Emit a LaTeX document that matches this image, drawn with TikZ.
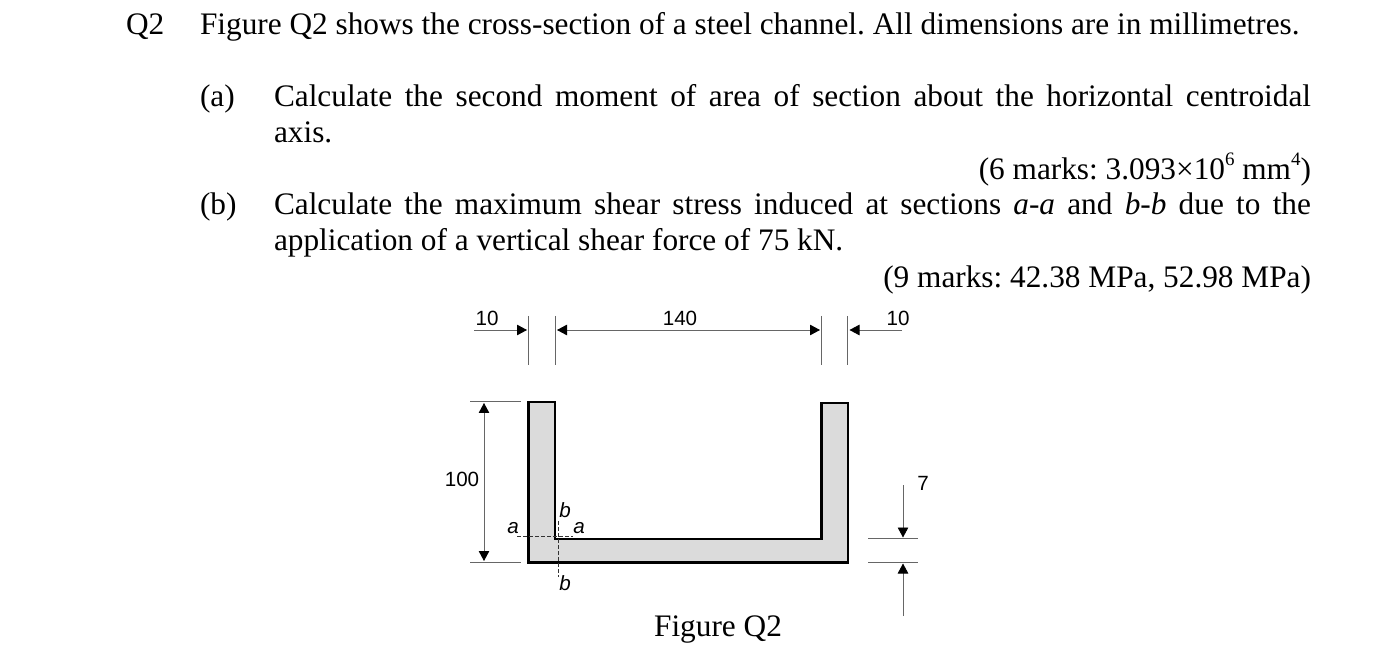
\documentclass[tikz,border=0pt]{standalone}
\usepackage{fontspec}
\setmainfont{Liberation Serif}
\newfontfamily\dimfont{Liberation Sans}
\usetikzlibrary{arrows.meta}
\frenchspacing
\tikzset{
  body/.style={anchor=base west,inner sep=0pt,outer sep=0pt,font=\fontsize{31.3}{31.3}\selectfont},
  bodyr/.style={anchor=base east,inner sep=0pt,outer sep=0pt,font=\fontsize{31.3}{31.3}\selectfont},
  dimtext/.style={inner sep=0pt,outer sep=0pt,font=\dimfont\fontsize{20.6}{20.6}\selectfont},
  seclabel/.style={inner sep=0pt,outer sep=0pt,font=\dimfont\itshape\fontsize{20.6}{20.6}\selectfont},
  extline/.style={draw=black!60,line width=0.9pt},
  dimline/.style={draw=black!60,line width=0.9pt},
  dimarrow/.style={dimline,-{Triangle[black,length=10pt,width=10.5pt]}},
  dimboth/.style={dimline,{Triangle[black,length=10pt,width=10.5pt]}-{Triangle[black,length=10pt,width=10.5pt]}},
  cutline/.style={draw=black!80,line width=0.8pt,dash pattern=on 4pt off 2pt},
  channel/.style={draw=black,line width=2.6pt,fill=black!14,line join=miter}
}
\begin{document}
\begin{tikzpicture}[x=1pt,y=-1pt]
\useasboundingbox (0,0) rectangle (1377,660);
% question text
\node[body] (q2) at (126,34.6) {Q2};
\node[body] (intro) at (200,34.6) {Figure Q2 shows the cross-section of a steel channel. All dimensions are in millimetres.};
\node[body] (pa) at (200,106.6) {(a)};
\node[body] (a1) at (274,106.6) {\makebox[1037pt][s]{Calculate the second moment of area of section about the horizontal centroidal}};
\node[body] (a2) at (274,142.6) {axis.};
\node[bodyr] (m1) at (1311,179.6) {(6 marks: 3.093×10\raisebox{0.44em}{\fontsize{19}{19}\selectfont 6} mm\raisebox{0.44em}{\fontsize{19}{19}\selectfont 4})};
\node[body] (pb) at (200,214.6) {(b)};
\node[body] (b1) at (274,214.6) {\makebox[1037pt][s]{Calculate the maximum shear stress induced at sections \textit{a-a} and \textit{b-b} due to the}};
\node[body] (b2) at (274,250.6) {application of a vertical shear force of 75 kN.};
\node[bodyr] (m2) at (1311,287.6) {(9 marks: 42.38 MPa, 52.98 MPa)};
\node[body,anchor=base] (fig) at (718,636.6) {Figure Q2};
% channel section
\draw[channel] (528.5,402) -- (555,402) -- (555,539) -- (821.5,539) -- (821.5,403) -- (848,403) -- (848,562.5) -- (528.5,562.5) -- cycle;
% extension lines, top
\coordinate (t1a) at (528.5,316); \coordinate (t1b) at (528.5,365);
\coordinate (t2a) at (555.3,316); \coordinate (t2b) at (555.3,365);
\coordinate (t3a) at (821.5,316); \coordinate (t3b) at (821.5,365);
\coordinate (t4a) at (847.8,316); \coordinate (t4b) at (847.8,365);
\foreach \p in {1,2,3,4} \draw[extline] (t\p a) -- (t\p b);
\coordinate (d1s) at (474,330); \coordinate (d1e) at (527,330);
\coordinate (d2s) at (557,330); \coordinate (d2e) at (820,330);
\coordinate (d3s) at (902,330); \coordinate (d3e) at (849.5,330);
\draw[dimarrow] (d1s) -- (d1e);
\draw[dimboth] (d2s) -- (d2e);
\draw[dimarrow] (d3s) -- (d3e);
\node[dimtext] (l10a) at (487,318) {10};
\node[dimtext] (l140) at (680,318) {140};
\node[dimtext] (l10b) at (898,318) {10};
% left height dimension
\coordinate (h1a) at (470,401.5); \coordinate (h1b) at (521,401.5);
\coordinate (h2a) at (470,562); \coordinate (h2b) at (521,562);
\draw[extline] (h1a) -- (h1b);
\draw[extline] (h2a) -- (h2b);
\coordinate (v1) at (484,403); \coordinate (v2) at (484,561);
\draw[dimboth] (v1) -- (v2);
\node[dimtext] (l100) at (462,479) {100};
% right thickness dimension
\coordinate (r1a) at (868,538.5); \coordinate (r1b) at (918,538.5);
\coordinate (r2a) at (868,562.3); \coordinate (r2b) at (918,562.3);
\draw[extline] (r1a) -- (r1b);
\draw[extline] (r2a) -- (r2b);
\coordinate (u1) at (903,485); \coordinate (u2) at (903,537.5);
\coordinate (w1) at (903,616); \coordinate (w2) at (903,563.5);
\draw[dimarrow] (u1) -- (u2);
\draw[dimarrow] (w1) -- (w2);
\node[dimtext] (l7) at (923,483) {7};
% section cuts
\coordinate (aL) at (517,536.5); \coordinate (aR) at (573,536.5);
\coordinate (bT) at (558.5,521); \coordinate (bB) at (558.5,577);
\draw[cutline] (aL) -- (aR);
\draw[cutline] (bT) -- (bB);
\node[seclabel] (la1) at (513,528) {a};
\node[seclabel] (la2) at (579,528) {a};
\node[seclabel] (lb1) at (565,510) {b};
\node[seclabel] (lb2) at (565,583) {b};
\end{tikzpicture}
\end{document}
